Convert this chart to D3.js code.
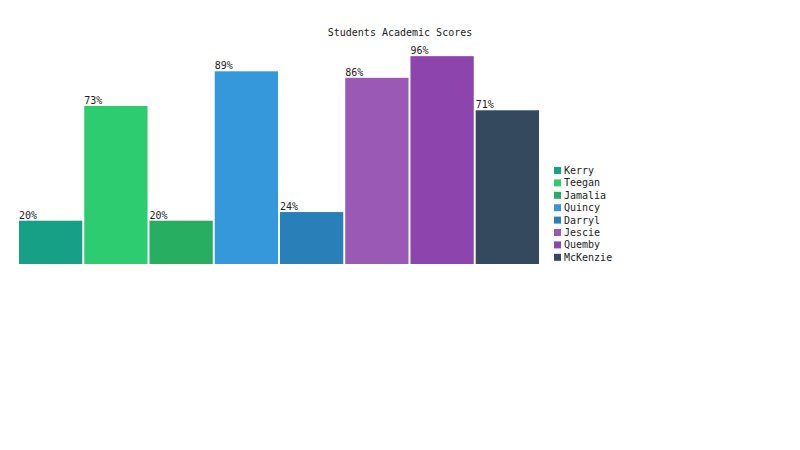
<!DOCTYPE html>
<html>
<head>
<meta charset="utf-8">
<script src="https://cdn.jsdelivr.net/npm/d3@7"></script>
<style>
  body { margin: 0; background: #fff; }
  text { font-family: "DejaVu Sans Mono", monospace; fill: #222; }
</style>
</head>
<body>
<svg id="chart" width="800" height="450"></svg>
<script>
const students = ['Kerry', 'Teegan', 'Jamalia', 'Quincy', 'Darryl', 'Jescie', 'Quemby', 'McKenzie'];
const scores = [20, 73, 20, 89, 24, 86, 96, 71];
const colors = ['#16a085', '#2ecc71', '#27ae60', '#3498db', '#2980b9', '#9b59b6', '#8e44ad', '#34495e'];

const svg = d3.select('#chart');

const x = d3.scaleBand()
  .domain(students)
  .range([19, 539])
  .paddingInner(0.03)
  .paddingOuter(0);

const y = d3.scaleLinear()
  .domain([0, 100])
  .range([264, 47.5]);

svg.append('text')
  .attr('x', 400)
  .attr('y', 36)
  .attr('text-anchor', 'middle')
  .attr('font-size', 10)
  .text('Students Academic Scores');

const data = students.map((name, i) => ({ name, score: scores[i], color: colors[i] }));

svg.selectAll('rect.bar')
  .data(data)
  .join('rect')
  .attr('class', 'bar')
  .attr('x', d => x(d.name))
  .attr('y', d => y(d.score))
  .attr('width', x.bandwidth())
  .attr('height', d => y(0) - y(d.score))
  .attr('fill', d => d.color);

svg.selectAll('text.label')
  .data(data)
  .join('text')
  .attr('class', 'label')
  .attr('x', d => x(d.name))
  .attr('y', d => y(d.score) - 2)
  .attr('font-size', 10)
  .text(d => d.score + '%');

// legend
const legend = svg.append('g').attr('transform', 'translate(554,165)');
const item = legend.selectAll('g')
  .data(data)
  .join('g')
  .attr('transform', (d, i) => `translate(0,${i * 12.4})`);
item.append('rect')
  .attr('width', 7).attr('height', 7)
  .attr('y', 2)
  .attr('fill', d => d.color);
item.append('text')
  .attr('x', 10).attr('y', 9)
  .attr('font-size', 10)
  .text(d => d.name);
</script>
</body>
</html>
